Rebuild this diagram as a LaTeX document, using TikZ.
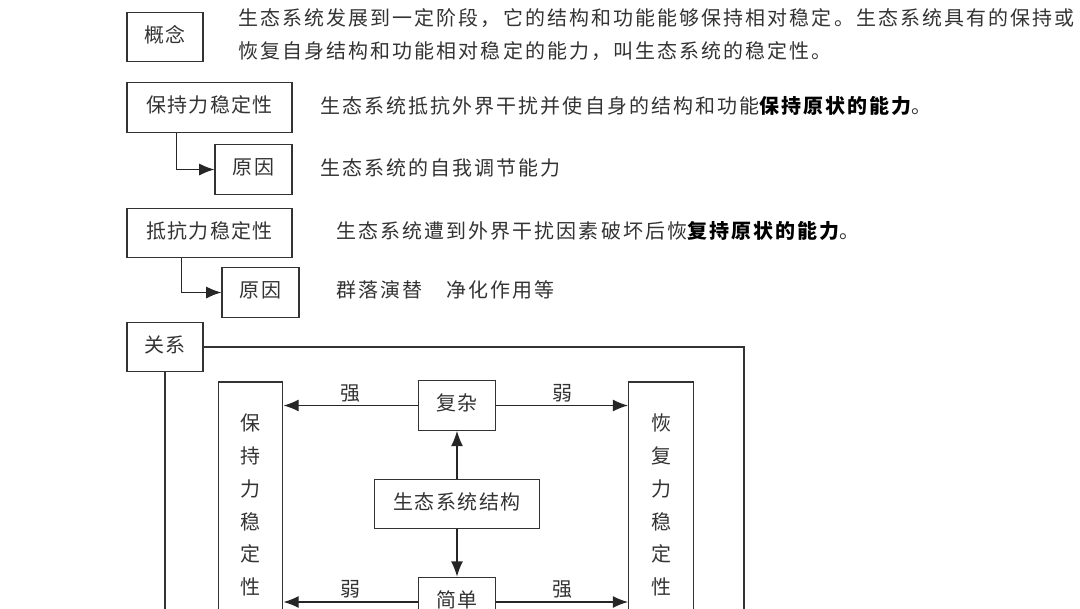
\documentclass[tikz,border=0pt]{standalone}
\usepackage{fontspec}
\setmainfont[LetterSpace=7]{Noto Sans CJK SC}
\newfontfamily\corps[LetterSpace=10.5]{Noto Sans CJK SC}
\usetikzlibrary{arrows.meta}

\begin{document}
\begin{tikzpicture}[
      x=0.025cm, y=-0.025cm,
      font=\fontsize{14.2}{17}\selectfont,
      boite/.style={
        draw=black!80,
        line width=0.8pt,
        text=black!80,
        minimum height=1.24cm,
        inner sep=0pt,
        text height=0.88em,
        text depth=0.12em
      },
      colonne/.style={
        draw=black!80,
        line width=0.8pt,
        text=black!80,
        minimum width=1.62cm,
        minimum height=6.15cm,
        align=center,
        font=\fontsize{14.2}{23.4}\selectfont
      },
      texte/.style={
        anchor=west,
        inner sep=0pt,
        text=black!80,
        font=\corps\fontsize{14.2}{17}\selectfont,
        text height=0.88em,
        text depth=0.12em
      },
      fleche/.style={
        draw=black!85,
        line width=0.9pt,
        -{Latex[length=3.8mm,width=3mm]}
      },
      etiquette/.style={above, inner sep=2pt, text=black!80}
    ]
    \useasboundingbox (0,0) rectangle (1080,608);
    \clip (0,0) rectangle (1080,608);

    % concept
    \node[boite, minimum width=1.9cm] (concept) at (165,37) {概念} ;
    \node[texte] (def1) at (238,20) {生态系统发展到一定阶段，它的结构和功能能够保持相对稳定。生态系统具有的保持或} ;
    \node[texte] (def2) at (238,53) {恢复自身结构和功能相对稳定的能力，叫生态系统的稳定性。} ;

    % resistance
    \node[boite, minimum width=4.125cm] (keep) at (209.5,107.5) {保持力稳定性} ;
    \node[texte] (keept) at (320,108) {生态系统抵抗外界干扰并使自身的结构和功能{\bfseries\color{black}保持原状的能力}。} ;
    \node[boite, minimum width=1.925cm] (cause1) at (253.5,169.5) {原因} ;
    \node[texte] (cause1t) at (320,170) {生态系统的自我调节能力} ;
    \node[coordinate,xshift=1.25cm] (keepd) at (keep.south west) {};
    \draw[fleche] (keepd) |- (cause1.west);

    % resilience
    \node[boite, minimum width=4.125cm] (resist) at (209.5,233) {抵抗力稳定性} ;
    \node[texte] (resistt) at (336,233) {生态系统遭到外界干扰因素破坏后恢{\bfseries\color{black}复持原状的能力}。} ;
    \node[boite, minimum width=1.925cm] (cause2) at (260.5,292.5) {原因} ;
    \node[texte] (cause2t) at (336,292.5) {群落演替\hspace{1.2em}净化作用等} ;
    \node[coordinate,xshift=1.375cm] (resistd) at (resist.south west) {};
    \draw[fleche] (resistd) |- (cause2.west);

    % relation
    \node[boite, minimum width=1.9cm] (rel) at (165,347) {关系} ;
    \coordinate (framebot) at (744,660);
    \draw[draw=black!80, line width=0.8pt] (rel.east) -| (framebot);
    \draw[draw=black!80, line width=0.8pt] (rel.south) -- (rel.south |- framebot);

    \node[colonne] (keepv) at (250.5,505) {保\\持\\力\\稳\\定\\性} ;
    \node[colonne] (recv) at (661,505) {恢\\复\\力\\稳\\定\\性} ;
    \node[boite, minimum width=1.925cm] (cpx) at (457,405.5) {复杂} ;
    \node[boite, minimum width=4.125cm] (struct) at (457,504) {生态系统结构} ;
    \node[boite, minimum width=1.925cm] (simp) at (457,602) {简单} ;

    \draw[fleche] (struct.north) -- (cpx.south);
    \draw[fleche] (struct.south) -- (simp.north);
    \draw[fleche] (cpx.west) -- (cpx.west -| keepv.east) node[etiquette, midway] (l1) {强};
    \draw[fleche] (cpx.east) -- (cpx.east -| recv.west) node[etiquette, midway] (l2) {弱};
    \draw[fleche] (simp.west) -- (simp.west -| keepv.east) node[etiquette, midway] (l3) {弱};
    \draw[fleche] (simp.east) -- (simp.east -| recv.west) node[etiquette, midway] (l4) {强};

  \end{tikzpicture}
\end{document}
